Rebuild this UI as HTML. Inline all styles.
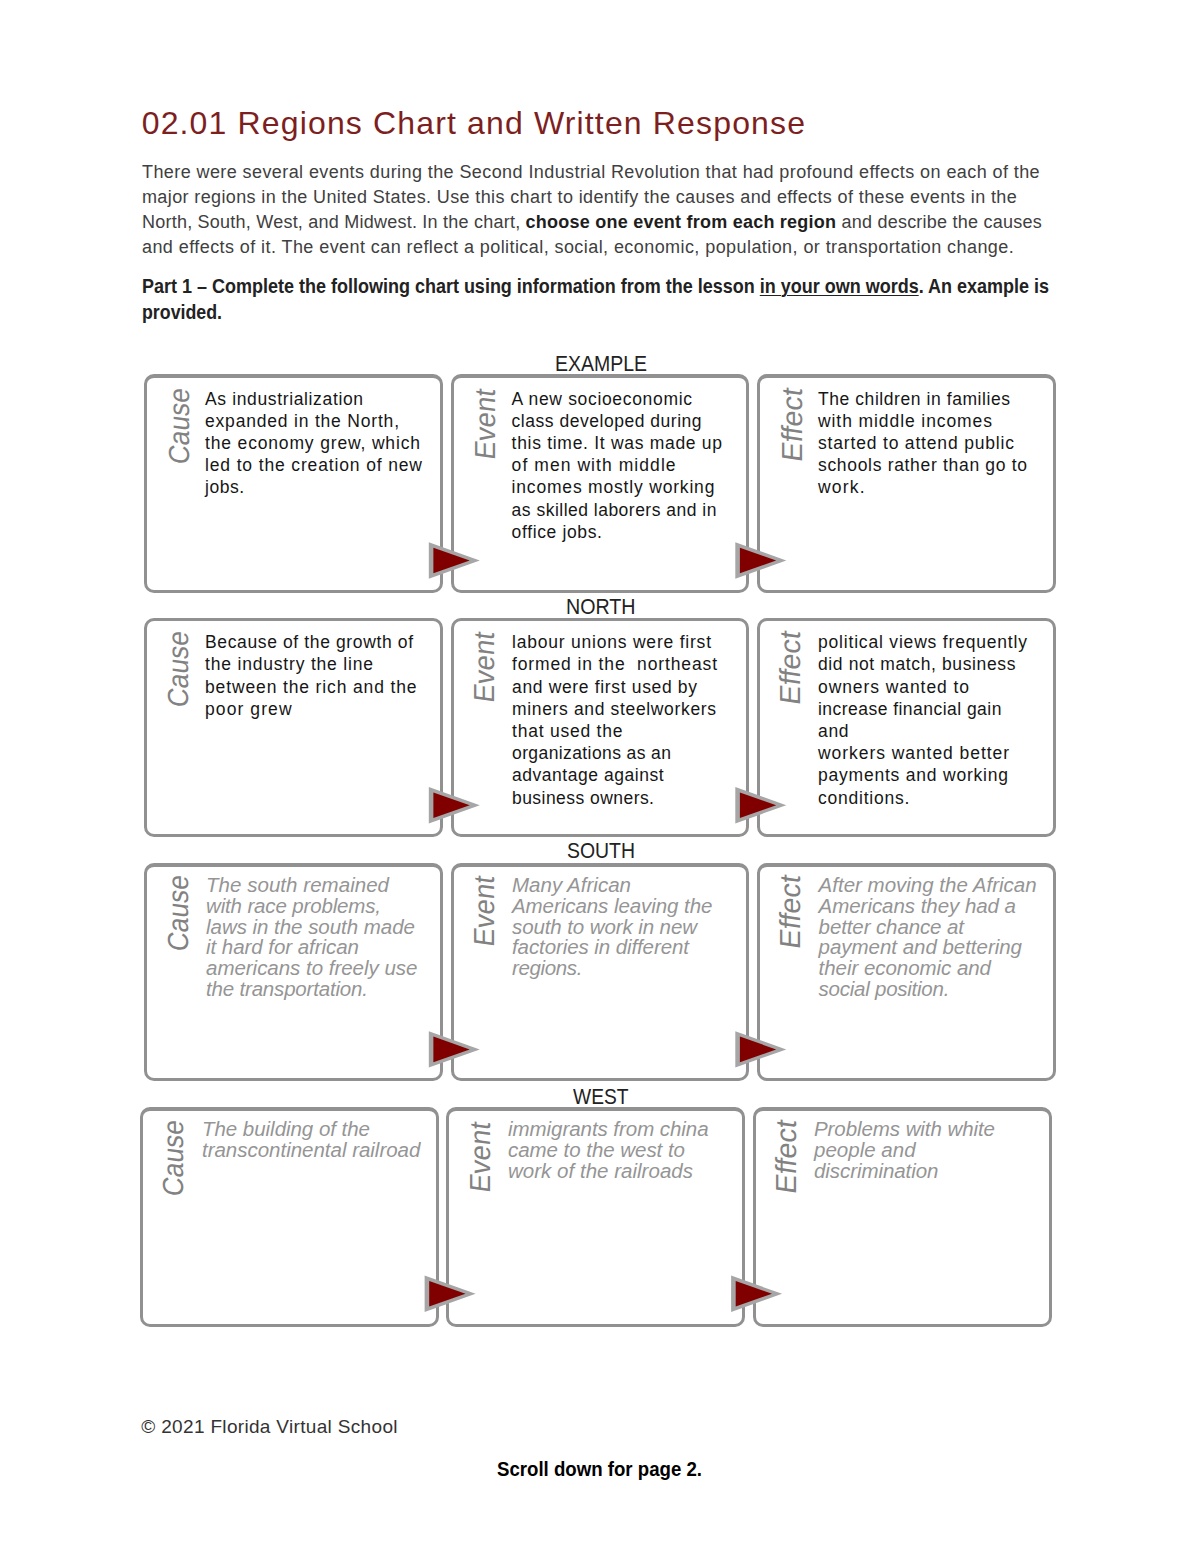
<!DOCTYPE html>
<html><head><meta charset="utf-8"><title>02.01 Regions Chart and Written Response</title>
<style>
html,body{margin:0;padding:0;background:#fff;}
body{width:1200px;height:1553px;position:relative;overflow:hidden;font-family:"Liberation Sans",sans-serif;}
.t{position:absolute;white-space:pre;line-height:normal;}
.bx{position:absolute;box-sizing:border-box;border:3px solid #919191;border-radius:10px;background:transparent;}
.ov{position:absolute;left:0;top:0;}
.rl{position:absolute;white-space:pre;font-size:29px;line-height:normal;color:#828282;transform-origin:0 0;}
u{text-decoration-thickness:1px;text-underline-offset:2px;}
</style></head><body>
<div class="bx" style="left:144.0px;top:374px;width:299.0px;height:219px;border-top-width:4px"></div><div class="bx" style="left:450.5px;top:374px;width:298.8px;height:219px;border-top-width:4px"></div><div class="bx" style="left:757.0px;top:374px;width:299.0px;height:219px;border-top-width:4px"></div><div class="bx" style="left:144.0px;top:618px;width:299.0px;height:219px;border-top-width:3px"></div><div class="bx" style="left:450.5px;top:618px;width:298.8px;height:219px;border-top-width:3px"></div><div class="bx" style="left:757.0px;top:618px;width:299.0px;height:219px;border-top-width:3px"></div><div class="bx" style="left:144.0px;top:863px;width:299.0px;height:218px;border-top-width:4px"></div><div class="bx" style="left:450.5px;top:863px;width:298.8px;height:218px;border-top-width:4px"></div><div class="bx" style="left:757.0px;top:863px;width:299.0px;height:218px;border-top-width:4px"></div><div class="bx" style="left:140.0px;top:1107px;width:299.0px;height:220px;border-top-width:4px"></div><div class="bx" style="left:446.0px;top:1107px;width:299.0px;height:220px;border-top-width:4px"></div><div class="bx" style="left:752.5px;top:1107px;width:299.5px;height:220px;border-top-width:4px"></div>
<svg class="ov" width="1200" height="1553" viewBox="0 0 1200 1553"><polygon points="428.8,542.3 479.8,560.5 428.8,578.7" fill="#a6a6a6"/><polygon points="433.4,547.7 469.7,560.5 433.4,573.3" fill="#800000"/><polygon points="735.3,542.3 786.3,560.5 735.3,578.7" fill="#a6a6a6"/><polygon points="739.9,547.7 776.2,560.5 739.9,573.3" fill="#800000"/><polygon points="428.8,787.0 479.8,805.2 428.8,823.4" fill="#a6a6a6"/><polygon points="433.4,792.4 469.7,805.2 433.4,818.0" fill="#800000"/><polygon points="735.3,787.0 786.3,805.2 735.3,823.4" fill="#a6a6a6"/><polygon points="739.9,792.4 776.2,805.2 739.9,818.0" fill="#800000"/><polygon points="428.8,1031.2 479.8,1049.4 428.8,1067.6" fill="#a6a6a6"/><polygon points="433.4,1036.6 469.7,1049.4 433.4,1062.2" fill="#800000"/><polygon points="735.3,1031.2 786.3,1049.4 735.3,1067.6" fill="#a6a6a6"/><polygon points="739.9,1036.6 776.2,1049.4 739.9,1062.2" fill="#800000"/><polygon points="424.6,1275.6 475.6,1293.8 424.6,1312.0" fill="#a6a6a6"/><polygon points="429.2,1281.0 465.5,1293.8 429.2,1306.6" fill="#800000"/><polygon points="731.1,1275.6 782.1,1293.8 731.1,1312.0" fill="#a6a6a6"/><polygon points="735.7,1281.0 772.0,1293.8 735.7,1306.6" fill="#800000"/></svg>
<div class="rl" style="left:163.2px;top:461.6px;transform:rotate(-90deg) scaleX(0.9101) skewX(-8deg)">Cause</div><div class="rl" style="left:469.4px;top:457.1px;transform:rotate(-90deg) scaleX(0.9474) skewX(-8deg)">Event</div><div class="rl" style="left:775.8px;top:458.5px;transform:rotate(-90deg) scaleX(0.9984) skewX(-8deg)">Effect</div><div class="rl" style="left:161.7px;top:704.6px;transform:rotate(-90deg) scaleX(0.9101) skewX(-8deg)">Cause</div><div class="rl" style="left:467.9px;top:700.1px;transform:rotate(-90deg) scaleX(0.9474) skewX(-8deg)">Event</div><div class="rl" style="left:774.3px;top:701.5px;transform:rotate(-90deg) scaleX(0.9984) skewX(-8deg)">Effect</div><div class="rl" style="left:161.7px;top:948.8px;transform:rotate(-90deg) scaleX(0.9101) skewX(-8deg)">Cause</div><div class="rl" style="left:467.9px;top:944.3px;transform:rotate(-90deg) scaleX(0.9474) skewX(-8deg)">Event</div><div class="rl" style="left:774.3px;top:945.7px;transform:rotate(-90deg) scaleX(0.9984) skewX(-8deg)">Effect</div><div class="rl" style="left:157.4px;top:1194.1px;transform:rotate(-90deg) scaleX(0.9101) skewX(-8deg)">Cause</div><div class="rl" style="left:463.6px;top:1189.6px;transform:rotate(-90deg) scaleX(0.9474) skewX(-8deg)">Event</div><div class="rl" style="left:770.0px;top:1191.0px;transform:rotate(-90deg) scaleX(0.9984) skewX(-8deg)">Effect</div>
<div class="t" style="left:141.7px;top:104.8px;font-family:'Liberation Sans',sans-serif;font-size:32px;color:#7d1f1f;letter-spacing:1.150px;">02.01 Regions Chart and Written Response</div><div class="t" style="left:142.0px;top:161.5px;font-family:'Liberation Sans',sans-serif;font-size:18px;color:#404040;letter-spacing:0.413px;">There were several events during the Second Industrial Revolution that had profound effects on each of the</div><div class="t" style="left:142.0px;top:187.0px;font-family:'Liberation Sans',sans-serif;font-size:18px;color:#404040;letter-spacing:0.379px;">major regions in the United States. Use this chart to identify the causes and effects of these events in the</div><div class="t" style="left:142.0px;top:212.2px;font-family:'Liberation Sans',sans-serif;font-size:18px;color:#404040;letter-spacing:0.229px;">North, South, West, and Midwest. In the chart, <b style='color:#1e1e1e'>choose one event from each region</b> and describe the causes</div><div class="t" style="left:142.0px;top:236.5px;font-family:'Liberation Sans',sans-serif;font-size:18px;color:#404040;letter-spacing:0.425px;">and effects of it. The event can reflect a political, social, economic, population, or transportation change.</div><div class="t" style="left:142.0px;top:274.3px;font-family:'Liberation Sans',sans-serif;font-size:20.5px;color:#222;font-weight:bold;transform:scaleX(0.8776);transform-origin:0 0;">Part 1 – Complete the following chart using information from the lesson <u>in your own words</u>. An example is</div><div class="t" style="left:142.0px;top:299.5px;font-family:'Liberation Sans',sans-serif;font-size:20.5px;color:#222;font-weight:bold;transform:scaleX(0.8671);transform-origin:0 0;">provided.</div><div class="t" style="left:554.5px;top:350.5px;font-family:'Liberation Sans',sans-serif;font-size:22.5px;color:#222;transform:scaleX(0.8655);transform-origin:0 0;">EXAMPLE</div><div class="t" style="left:566.0px;top:593.8px;font-family:'Liberation Sans',sans-serif;font-size:22.5px;color:#222;transform:scaleX(0.8732);transform-origin:0 0;">NORTH</div><div class="t" style="left:566.5px;top:837.5px;font-family:'Liberation Sans',sans-serif;font-size:22.5px;color:#222;transform:scaleX(0.8635);transform-origin:0 0;">SOUTH</div><div class="t" style="left:573.0px;top:1083.5px;font-family:'Liberation Sans',sans-serif;font-size:22.5px;color:#222;transform:scaleX(0.8538);transform-origin:0 0;">WEST</div><div class="t" style="left:205.0px;top:388.8px;font-family:'Liberation Sans',sans-serif;font-size:17.5px;color:#161616;letter-spacing:0.637px;">As industrialization</div><div class="t" style="left:205.0px;top:410.9px;font-family:'Liberation Sans',sans-serif;font-size:17.5px;color:#161616;letter-spacing:0.806px;">expanded in the North,</div><div class="t" style="left:205.0px;top:433.1px;font-family:'Liberation Sans',sans-serif;font-size:17.5px;color:#161616;letter-spacing:0.841px;">the economy grew, which</div><div class="t" style="left:205.0px;top:455.2px;font-family:'Liberation Sans',sans-serif;font-size:17.5px;color:#161616;letter-spacing:0.858px;">led to the creation of new</div><div class="t" style="left:205.0px;top:477.4px;font-family:'Liberation Sans',sans-serif;font-size:17.5px;color:#161616;letter-spacing:0.508px;">jobs.</div><div class="t" style="left:511.6px;top:388.8px;font-family:'Liberation Sans',sans-serif;font-size:17.5px;color:#161616;letter-spacing:0.672px;">A new socioeconomic</div><div class="t" style="left:511.6px;top:410.9px;font-family:'Liberation Sans',sans-serif;font-size:17.5px;color:#161616;letter-spacing:0.523px;">class developed during</div><div class="t" style="left:511.6px;top:433.1px;font-family:'Liberation Sans',sans-serif;font-size:17.5px;color:#161616;letter-spacing:0.702px;">this time. It was made up</div><div class="t" style="left:511.6px;top:455.2px;font-family:'Liberation Sans',sans-serif;font-size:17.5px;color:#161616;letter-spacing:1.064px;">of men with middle</div><div class="t" style="left:511.6px;top:477.4px;font-family:'Liberation Sans',sans-serif;font-size:17.5px;color:#161616;letter-spacing:0.812px;">incomes mostly working</div><div class="t" style="left:511.6px;top:499.5px;font-family:'Liberation Sans',sans-serif;font-size:17.5px;color:#161616;letter-spacing:0.488px;">as skilled laborers and in</div><div class="t" style="left:511.6px;top:521.7px;font-family:'Liberation Sans',sans-serif;font-size:17.5px;color:#161616;letter-spacing:0.641px;">office jobs.</div><div class="t" style="left:818.0px;top:388.8px;font-family:'Liberation Sans',sans-serif;font-size:17.5px;color:#161616;letter-spacing:0.567px;">The children in families</div><div class="t" style="left:818.0px;top:410.9px;font-family:'Liberation Sans',sans-serif;font-size:17.5px;color:#161616;letter-spacing:0.913px;">with middle incomes</div><div class="t" style="left:818.0px;top:433.1px;font-family:'Liberation Sans',sans-serif;font-size:17.5px;color:#161616;letter-spacing:0.823px;">started to attend public</div><div class="t" style="left:818.0px;top:455.2px;font-family:'Liberation Sans',sans-serif;font-size:17.5px;color:#161616;letter-spacing:0.682px;">schools rather than go to</div><div class="t" style="left:818.0px;top:477.4px;font-family:'Liberation Sans',sans-serif;font-size:17.5px;color:#161616;letter-spacing:1.197px;">work.</div><div class="t" style="left:205.0px;top:632.2px;font-family:'Liberation Sans',sans-serif;font-size:17.5px;color:#161616;letter-spacing:0.626px;">Because of the growth of</div><div class="t" style="left:205.0px;top:654.4px;font-family:'Liberation Sans',sans-serif;font-size:17.5px;color:#161616;letter-spacing:0.812px;">the industry the line</div><div class="t" style="left:205.0px;top:676.6px;font-family:'Liberation Sans',sans-serif;font-size:17.5px;color:#161616;letter-spacing:0.866px;">between the rich and the</div><div class="t" style="left:205.0px;top:698.8px;font-family:'Liberation Sans',sans-serif;font-size:17.5px;color:#161616;letter-spacing:1.096px;">poor grew</div><div class="t" style="left:512.0px;top:632.2px;font-family:'Liberation Sans',sans-serif;font-size:17.5px;color:#161616;letter-spacing:0.786px;">labour unions were first</div><div class="t" style="left:512.0px;top:654.4px;font-family:'Liberation Sans',sans-serif;font-size:17.5px;color:#161616;letter-spacing:0.877px;">formed in the  northeast</div><div class="t" style="left:512.0px;top:676.6px;font-family:'Liberation Sans',sans-serif;font-size:17.5px;color:#161616;letter-spacing:0.657px;">and were first used by</div><div class="t" style="left:512.0px;top:698.8px;font-family:'Liberation Sans',sans-serif;font-size:17.5px;color:#161616;letter-spacing:0.652px;">miners and steelworkers</div><div class="t" style="left:512.0px;top:721.0px;font-family:'Liberation Sans',sans-serif;font-size:17.5px;color:#161616;letter-spacing:0.766px;">that used the</div><div class="t" style="left:512.0px;top:743.2px;font-family:'Liberation Sans',sans-serif;font-size:17.5px;color:#161616;letter-spacing:0.401px;">organizations as an</div><div class="t" style="left:512.0px;top:765.4px;font-family:'Liberation Sans',sans-serif;font-size:17.5px;color:#161616;letter-spacing:0.535px;">advantage against</div><div class="t" style="left:512.0px;top:787.6px;font-family:'Liberation Sans',sans-serif;font-size:17.5px;color:#161616;letter-spacing:0.452px;">business owners.</div><div class="t" style="left:818.0px;top:632.2px;font-family:'Liberation Sans',sans-serif;font-size:17.5px;color:#161616;letter-spacing:0.812px;">political views frequently</div><div class="t" style="left:818.0px;top:654.4px;font-family:'Liberation Sans',sans-serif;font-size:17.5px;color:#161616;letter-spacing:0.615px;">did not match, business</div><div class="t" style="left:818.0px;top:676.6px;font-family:'Liberation Sans',sans-serif;font-size:17.5px;color:#161616;letter-spacing:0.922px;">owners wanted to</div><div class="t" style="left:818.0px;top:698.8px;font-family:'Liberation Sans',sans-serif;font-size:17.5px;color:#161616;letter-spacing:0.465px;">increase financial gain</div><div class="t" style="left:818.0px;top:721.0px;font-family:'Liberation Sans',sans-serif;font-size:17.5px;color:#161616;letter-spacing:0.698px;">and</div><div class="t" style="left:818.0px;top:743.2px;font-family:'Liberation Sans',sans-serif;font-size:17.5px;color:#161616;letter-spacing:0.941px;">workers wanted better</div><div class="t" style="left:818.0px;top:765.4px;font-family:'Liberation Sans',sans-serif;font-size:17.5px;color:#161616;letter-spacing:0.784px;">payments and working</div><div class="t" style="left:818.0px;top:787.6px;font-family:'Liberation Sans',sans-serif;font-size:17.5px;color:#161616;letter-spacing:0.773px;">conditions.</div><div class="t" style="left:206.0px;top:872.8px;font-family:'Liberation Sans',sans-serif;font-size:20.5px;color:#959595;font-style:italic;letter-spacing:0.040px;">The south remained</div><div class="t" style="left:206.0px;top:893.6px;font-family:'Liberation Sans',sans-serif;font-size:20.5px;color:#959595;font-style:italic;letter-spacing:-0.152px;">with race problems,</div><div class="t" style="left:206.0px;top:914.5px;font-family:'Liberation Sans',sans-serif;font-size:20.5px;color:#959595;font-style:italic;letter-spacing:-0.033px;">laws in the south made</div><div class="t" style="left:206.0px;top:935.3px;font-family:'Liberation Sans',sans-serif;font-size:20.5px;color:#959595;font-style:italic;letter-spacing:-0.046px;">it hard for african</div><div class="t" style="left:206.0px;top:956.2px;font-family:'Liberation Sans',sans-serif;font-size:20.5px;color:#959595;font-style:italic;letter-spacing:-0.024px;">americans to freely use</div><div class="t" style="left:206.0px;top:977.0px;font-family:'Liberation Sans',sans-serif;font-size:20.5px;color:#959595;font-style:italic;letter-spacing:-0.181px;">the transportation.</div><div class="t" style="left:512.0px;top:872.8px;font-family:'Liberation Sans',sans-serif;font-size:20.5px;color:#959595;font-style:italic;letter-spacing:0.011px;">Many African</div><div class="t" style="left:512.0px;top:893.6px;font-family:'Liberation Sans',sans-serif;font-size:20.5px;color:#959595;font-style:italic;letter-spacing:-0.064px;">Americans leaving the</div><div class="t" style="left:512.0px;top:914.5px;font-family:'Liberation Sans',sans-serif;font-size:20.5px;color:#959595;font-style:italic;letter-spacing:-0.099px;">south to work in new</div><div class="t" style="left:512.0px;top:935.3px;font-family:'Liberation Sans',sans-serif;font-size:20.5px;color:#959595;font-style:italic;letter-spacing:-0.091px;">factories in different</div><div class="t" style="left:512.0px;top:956.2px;font-family:'Liberation Sans',sans-serif;font-size:20.5px;color:#959595;font-style:italic;letter-spacing:-0.363px;">regions.</div><div class="t" style="left:818.6px;top:872.8px;font-family:'Liberation Sans',sans-serif;font-size:20.5px;color:#959595;font-style:italic;letter-spacing:-0.001px;">After moving the African</div><div class="t" style="left:818.6px;top:893.6px;font-family:'Liberation Sans',sans-serif;font-size:20.5px;color:#959595;font-style:italic;letter-spacing:-0.046px;">Americans they had a</div><div class="t" style="left:818.6px;top:914.5px;font-family:'Liberation Sans',sans-serif;font-size:20.5px;color:#959595;font-style:italic;letter-spacing:-0.108px;">better chance at</div><div class="t" style="left:818.6px;top:935.3px;font-family:'Liberation Sans',sans-serif;font-size:20.5px;color:#959595;font-style:italic;letter-spacing:-0.030px;">payment and bettering</div><div class="t" style="left:818.6px;top:956.2px;font-family:'Liberation Sans',sans-serif;font-size:20.5px;color:#959595;font-style:italic;letter-spacing:-0.048px;">their economic and</div><div class="t" style="left:818.6px;top:977.0px;font-family:'Liberation Sans',sans-serif;font-size:20.5px;color:#959595;font-style:italic;letter-spacing:-0.245px;">social position.</div><div class="t" style="left:202.0px;top:1116.8px;font-family:'Liberation Sans',sans-serif;font-size:20.5px;color:#959595;font-style:italic;letter-spacing:-0.038px;">The building of the</div><div class="t" style="left:202.0px;top:1138.0px;font-family:'Liberation Sans',sans-serif;font-size:20.5px;color:#959595;font-style:italic;letter-spacing:-0.017px;">transcontinental railroad</div><div class="t" style="left:508.0px;top:1116.8px;font-family:'Liberation Sans',sans-serif;font-size:20.5px;color:#959595;font-style:italic;letter-spacing:-0.052px;">immigrants from china</div><div class="t" style="left:508.0px;top:1138.0px;font-family:'Liberation Sans',sans-serif;font-size:20.5px;color:#959595;font-style:italic;letter-spacing:-0.043px;">came to the west to</div><div class="t" style="left:508.0px;top:1159.2px;font-family:'Liberation Sans',sans-serif;font-size:20.5px;color:#959595;font-style:italic;letter-spacing:0.020px;">work of the railroads</div><div class="t" style="left:814.0px;top:1116.8px;font-family:'Liberation Sans',sans-serif;font-size:20.5px;color:#959595;font-style:italic;letter-spacing:-0.072px;">Problems with white</div><div class="t" style="left:814.0px;top:1138.0px;font-family:'Liberation Sans',sans-serif;font-size:20.5px;color:#959595;font-style:italic;letter-spacing:0.015px;">people and</div><div class="t" style="left:814.0px;top:1159.2px;font-family:'Liberation Sans',sans-serif;font-size:20.5px;color:#959595;font-style:italic;letter-spacing:-0.071px;">discrimination</div><div class="t" style="left:141.3px;top:1416.0px;font-family:'Liberation Sans',sans-serif;font-size:19px;color:#333;letter-spacing:0.326px;">© 2021 Florida Virtual School</div><div class="t" style="left:497.0px;top:1458.4px;font-family:'Liberation Sans',sans-serif;font-size:20px;color:#000;font-weight:bold;transform:scaleX(0.9317);transform-origin:0 0;">Scroll down for page 2.</div>
</body></html>
